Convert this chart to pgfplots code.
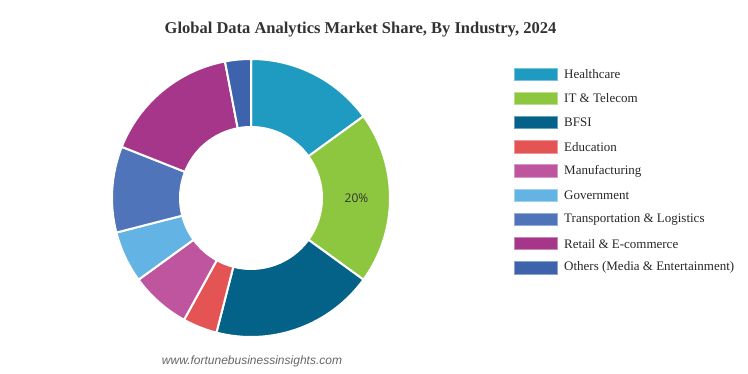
\documentclass[border=0pt]{standalone}
\usepackage{pgfplots}
\pgfplotsset{compat=1.18}
\usepackage{fontspec}
\setmainfont{Liberation Serif}
\newfontfamily\lsans{Liberation Sans}
\newfontfamily\osans{Open Sans}
\definecolor{c1}{HTML}{1F9BC2}
\definecolor{c2}{HTML}{8DC63F}
\definecolor{c3}{HTML}{046289}
\definecolor{c4}{HTML}{E55454}
\definecolor{c5}{HTML}{C0559F}
\definecolor{c6}{HTML}{63B4E4}
\definecolor{c7}{HTML}{4F74B9}
\definecolor{c8}{HTML}{A53689}
\definecolor{c9}{HTML}{3E63AD}
% shares in percent, clockwise from the top
\def\shares{15,20,19,4,7,6,10,16,3}
\xdef\cum{0}
\foreach \v [count=\i] in \shares {%
  \pgfmathsetmacro\s{90-3.6*\cum}%
  \pgfmathsetmacro\e{90-3.6*(\cum+\v)}%
  \expandafter\xdef\csname sA\i\endcsname{\s}%
  \expandafter\xdef\csname sE\i\endcsname{\e}%
  \pgfmathsetmacro\n{\cum+\v}%
  \xdef\cum{\n}%
}
\def\cx{251}\def\cy{176}
\newcommand\slice[2]{%
  \fill[#2, draw=white, line width=2pt, line join=round]
    ([shift={(\csname sA#1\endcsname:139pt)}]axis cs:\cx,\cy)
    arc[start angle=\csname sA#1\endcsname, end angle=\csname sE#1\endcsname, radius=139pt]
    -- ([shift={(\csname sE#1\endcsname:71pt)}]axis cs:\cx,\cy)
    arc[start angle=\csname sE#1\endcsname, end angle=\csname sA#1\endcsname, radius=71pt]
    -- cycle;}
\newcommand\legitem[3]{%
  \fill[#2, draw=#2!60!white, line width=0.6pt] (axis cs:514,{374-#1-6.2}) rectangle (axis cs:557,{374-#1+6.2});
  \node[anchor=west, inner sep=0pt, text=black!85, font=\fontsize{13pt}{15pt}\selectfont] at (axis cs:564,{374-#1}) {#3};}
\begin{document}
\begin{tikzpicture}
\begin{axis}[
  scale only axis, width=748pt, height=374pt,
  xmin=0, xmax=748, ymin=0, ymax=374,
  hide axis, clip=false]
\addplot[draw=none] coordinates {(0,0) (748,374)};
\slice{1}{c1}
\slice{2}{c2}
\slice{3}{c3}
\slice{4}{c4}
\slice{5}{c5}
\slice{6}{c6}
\slice{7}{c7}
\slice{8}{c8}
\slice{9}{c9}
\node[text=black!80, font=\osans\fontsize{12pt}{14pt}\selectfont] at (axis cs:356.5,176) {20\%};
\node[font=\bfseries\fontsize{16.5pt}{19pt}\selectfont, text=black!80] at (axis cs:360.5,344.5) {Global Data Analytics Market Share, By Industry, 2024};
\legitem{74.3}{c1}{Healthcare}
\legitem{98.4}{c2}{IT \& Telecom}
\legitem{122.6}{c3}{BFSI}
\legitem{146.8}{c4}{Education}
\legitem{171.0}{c5}{Manufacturing}
\legitem{195.2}{c6}{Government}
\legitem{219.4}{c7}{Transportation \& Logistics}
\legitem{243.6}{c8}{Retail \& E-commerce}
\legitem{267.8}{c9}{Others (Media \& Entertainment)}
\node[font=\lsans\itshape\fontsize{12pt}{14pt}\selectfont, text=black!60] at (axis cs:252,13) {www.fortunebusinessinsights.com};
\end{axis}
\end{tikzpicture}
\end{document}
